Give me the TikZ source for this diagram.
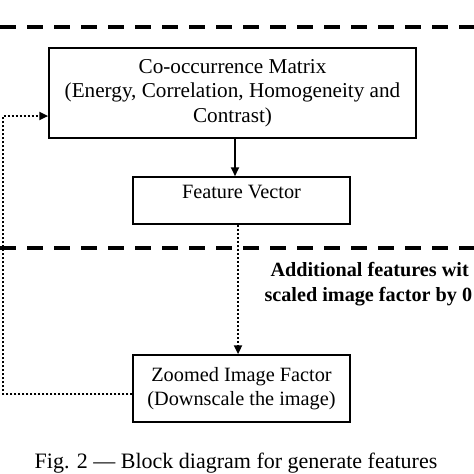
\documentclass[tikz,border=0pt]{standalone}
\usepackage{fontspec}
\setmainfont{Liberation Serif}
\usetikzlibrary{arrows.meta, positioning, calc}

\tikzset{
    blok/.style={draw, line width=1.5pt, inner sep=0pt, align=center,
        font=\fontsize{20.3}{24.5}\selectfont},
    sepline/.style={line width=4.5pt, dash pattern=on 16pt off 11pt},
    dotline/.style={line width=2.3pt, dash pattern=on 1.8pt off 2.2pt},
}

\begin{document}
\begin{tikzpicture}[x=1pt, y=-1pt, >={Triangle[length=9pt, width=8pt]}]
    \useasboundingbox (0,0) rectangle (474,474);
    \clip (0,0) rectangle (474,474);

    % dashed separators
    \draw[sepline] (0,27) -- (474,27);
    \draw[sepline] (0,248) -- (474,248);

    \node[blok, minimum width=367pt, minimum height=90pt, font=\fontsize{21.2}{24.5}\selectfont] (cooc) at (232.5,93)
        {Co-occurrence Matrix\\(Energy, Correlation, Homogeneity and\\Contrast)};
    \node[blok, minimum width=217pt, text height=21pt, text depth=26pt] (fvec) at (241.5,200.5)
        {Feature Vector};
    \node[blok, minimum width=217pt, minimum height=67pt] (zoomf) at (241.5,388.5)
        {Zoomed Image Factor\\(Downscale the image)};

    \coordinate (ax) at (235,0);
    \coordinate (dx) at (238,0);
    \coordinate (lx) at (3,0);
    \coordinate (fb) at (0,394);
    \coordinate (ty) at (0,116);

    \draw[line width=2pt, ->] (cooc.south -| ax) -- (fvec.north -| ax);
    \draw[dotline, ->] (fvec.south -| dx) -- (zoomf.north -| dx);
    \draw[dotline, ->] (zoomf.west |- fb) -- (lx |- fb) -- (lx |- ty) -- (cooc.west |- ty);

    \node[anchor=base west, align=left, font=\bfseries\fontsize{20.2}{25}\selectfont] (addtxt) at (261,301)
        {\hspace{6pt}Additional features wit\\scaled image factor by 0};

    \node[anchor=base, font=\fontsize{22}{28}\selectfont] (cap) at (236,468)
        {Fig. 2 — Block diagram for generate features};
\end{tikzpicture}
\end{document}
